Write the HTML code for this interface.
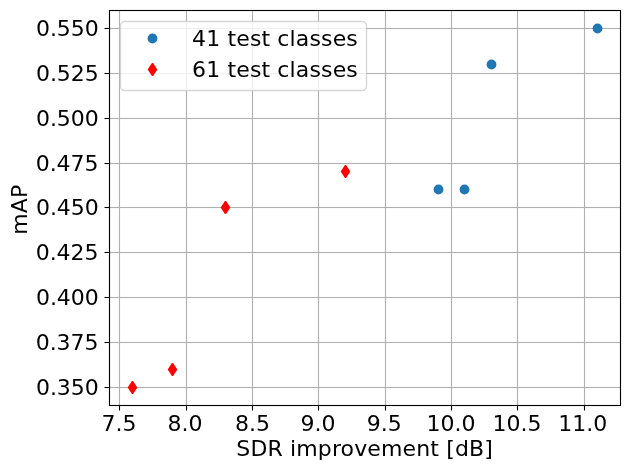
<!DOCTYPE html>
<html lang="en">
<head>
<meta charset="utf-8">
<title>mAP vs SDR improvement</title>
<style>
html,body{margin:0;padding:0;background:#fff;}
body{width:630px;height:470px;overflow:hidden;}
svg{display:block;}
text{font-family:"DejaVu Sans","Liberation Sans",sans-serif;font-size:22.000px;fill:#000;text-rendering:auto;letter-spacing:0.130px;}
.t text{letter-spacing:-0.050px;}
.g{stroke:#b0b0b0;stroke-width:1.111;fill:none;}
.k{stroke:#000;stroke-width:1.111;fill:none;}
.b{fill:#1f77b4;stroke:none;}
.r{fill:#ff0000;stroke:none;}
</style>
</head>
<body>
<svg width="630" height="470" viewBox="0 0 630 470">
<rect x="0" y="0" width="630" height="470" fill="#ffffff"/>
<g class="g">
<line x1="119.5" y1="10.5" x2="119.5" y2="405.5"/>
<line x1="186.5" y1="10.5" x2="186.5" y2="405.5"/>
<line x1="252.5" y1="10.5" x2="252.5" y2="405.5"/>
<line x1="318.5" y1="10.5" x2="318.5" y2="405.5"/>
<line x1="385.5" y1="10.5" x2="385.5" y2="405.5"/>
<line x1="451.5" y1="10.5" x2="451.5" y2="405.5"/>
<line x1="517.5" y1="10.5" x2="517.5" y2="405.5"/>
<line x1="584.5" y1="10.5" x2="584.5" y2="405.5"/>
</g>
<g fill="#b0b0b0">
<rect x="109.5" y="386.945" width="511.0" height="1.111"/>
<rect x="109.5" y="341.945" width="511.0" height="1.111"/>
<rect x="109.5" y="296.945" width="511.0" height="1.111"/>
<rect x="109.5" y="251.945" width="511.0" height="1.111"/>
<rect x="109.5" y="206.945" width="511.0" height="1.111"/>
<rect x="109.5" y="162.945" width="511.0" height="1.111"/>
<rect x="109.5" y="117.945" width="511.0" height="1.111"/>
<rect x="109.5" y="72.945" width="511.0" height="1.111"/>
<rect x="109.5" y="27.945" width="511.0" height="1.111"/>
</g>
<g class="k">
<line x1="119.5" y1="405.5" x2="119.5" y2="410.50"/>
<line x1="186.5" y1="405.5" x2="186.5" y2="410.50"/>
<line x1="252.5" y1="405.5" x2="252.5" y2="410.50"/>
<line x1="318.5" y1="405.5" x2="318.5" y2="410.50"/>
<line x1="385.5" y1="405.5" x2="385.5" y2="410.50"/>
<line x1="451.5" y1="405.5" x2="451.5" y2="410.50"/>
<line x1="517.5" y1="405.5" x2="517.5" y2="410.50"/>
<line x1="584.5" y1="405.5" x2="584.5" y2="410.50"/>
<line x1="109.5" y1="387.5" x2="104.50" y2="387.5"/>
<line x1="109.5" y1="342.5" x2="104.50" y2="342.5"/>
<line x1="109.5" y1="297.5" x2="104.50" y2="297.5"/>
<line x1="109.5" y1="252.5" x2="104.50" y2="252.5"/>
<line x1="109.5" y1="207.5" x2="104.50" y2="207.5"/>
<line x1="109.5" y1="163.5" x2="104.50" y2="163.5"/>
<line x1="109.5" y1="118.5" x2="104.50" y2="118.5"/>
<line x1="109.5" y1="73.5" x2="104.50" y2="73.5"/>
<line x1="109.5" y1="28.5" x2="104.50" y2="28.5"/>
</g>
<circle class="b" cx="438.5" cy="189.5" r="4.9"/>
<circle class="b" cx="464.5" cy="189.5" r="4.9"/>
<circle class="b" cx="491.5" cy="64.5" r="4.9"/>
<circle class="b" cx="597.5" cy="28.5" r="4.9"/>
<path class="r" d="M131.922 381.115 L133.078 381.115 L137.335 387.500 L133.078 393.885 L131.922 393.885 L127.665 387.500 Z"/>
<path class="r" d="M171.922 363.115 L173.078 363.115 L177.335 369.500 L173.078 375.885 L171.922 375.885 L167.665 369.500 Z"/>
<path class="r" d="M224.922 201.115 L226.078 201.115 L230.335 207.500 L226.078 213.885 L224.922 213.885 L220.665 207.500 Z"/>
<path class="r" d="M344.922 165.115 L346.078 165.115 L350.335 171.500 L346.078 177.885 L344.922 177.885 L340.665 171.500 Z"/>
<rect class="k" x="109.5" y="10.5" width="511.0" height="395.0" stroke-linejoin="miter"/>
<g class="t" text-anchor="middle">
<text x="118.95" y="430.50">7.5</text>
<text x="184.95" y="430.50">8.0</text>
<text x="252.45" y="430.50">8.5</text>
<text x="317.95" y="430.50">9.0</text>
<text x="384.20" y="430.50">9.5</text>
<text x="450.95" y="430.50">10.0</text>
<text x="516.95" y="430.50">10.5</text>
<text x="582.70" y="430.50">11.0</text>
</g>
<g class="t" text-anchor="end">
<text x="98.70" y="394.65">0.350</text>
<text x="98.45" y="349.65">0.375</text>
<text x="98.70" y="304.65">0.400</text>
<text x="98.45" y="259.65">0.425</text>
<text x="98.70" y="214.65">0.450</text>
<text x="98.45" y="170.65">0.475</text>
<text x="98.70" y="125.65">0.500</text>
<text x="98.70" y="80.65">0.525</text>
<text x="98.70" y="35.65">0.550</text>
</g>
<text x="364.65" y="455.55" text-anchor="middle">SDR improvement [dB]</text>
<text transform="translate(26.70 209.75) rotate(-90)" text-anchor="middle">mAP</text>
<rect x="120.5" y="21.5" width="246" height="69" rx="4.44" ry="4.44" fill="#ffffff" fill-opacity="0.8" stroke="#cccccc" stroke-opacity="0.8" stroke-width="1.389"/>
<circle class="b" cx="152.5" cy="38.5" r="4.9"/>
<path class="r" d="M151.922 63.115 L153.078 63.115 L157.335 69.500 L153.078 75.885 L151.922 75.885 L147.665 69.500 Z"/>
<text x="192.10" y="45.59">41 test classes</text>
<text x="192.10" y="76.69">61 test classes</text>
</svg>
</body>
</html>
